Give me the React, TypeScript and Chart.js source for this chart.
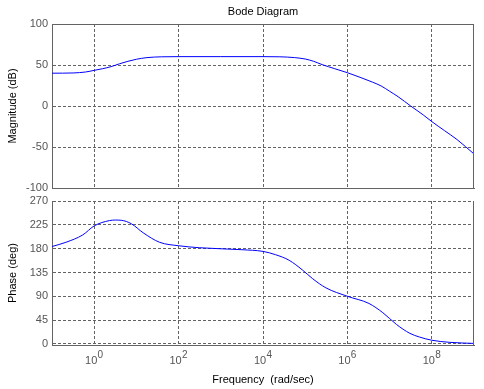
import React, { useEffect, useRef } from 'react';
import { Chart, registerables } from 'chart.js';

Chart.register(...registerables);

// ---- text ----
const TITLE = 'Bode Diagram';
const X_LABEL = 'Frequency  (rad/sec)';
const MAG_LABEL = 'Magnitude (dB)';
const PHASE_LABEL = 'Phase (deg)';

// ---- data (frequency given as decade exponent: rad/sec = 10^exp) ----
const magFreqExp = [-1, -0.5, -0.2, 0, 0.2, 0.4, 0.6, 0.8, 1.0, 1.25, 1.6, 2, 3, 4, 4.4, 4.75, 5.0, 5.2, 5.4, 5.7, 6.0, 6.3, 6.6, 6.8, 7.0, 7.2, 7.5, 7.8, 8.0, 8.3, 8.6, 9.0];
const magDb = [40, 40.3, 41.5, 43.5, 45.5, 48, 51.5, 54.5, 57, 59, 60, 60.2, 60.2, 60.2, 60, 59, 57.3, 54.5, 50.5, 45.5, 40.6, 35, 29, 24.4, 18, 11.4, 0, -11, -19, -30, -41, -58.5];

const phaseFreqExp = [-1, -0.67, -0.27, 0, 0.36, 0.5, 0.64, 0.88, 1.16, 1.55, 2.0, 2.5, 3.5, 4.0, 4.3, 4.62, 4.93, 5.18, 5.49, 6.0, 6.51, 6.84, 7.16, 7.48, 7.71, 8.0, 8.43, 9.0];
const phaseDeg = [184, 192, 206, 223, 233, 234, 233.6, 227, 210, 192, 185.5, 181.7, 178, 174.8, 168.5, 158, 140, 123, 106, 90, 76.5, 59, 37, 20, 13, 7, 3, 1];

const xTickExp = [0, 2, 4, 6, 8];
const magTicks = [-100, -50, 0, 50, 100];
const phaseTicks = [0, 45, 90, 135, 180, 225, 270];

// ---- style ----
const FONT = "'Liberation Sans', Arial, Helvetica, sans-serif";
const AXIS = '#636363';
const GRID = '#636363';
const TICK = '#555555';
const LINE = '#0000ff';

Chart.defaults.font.family = FONT;

function yAxis(ticks: number[], min: number, max: number, label: string) {
  return {
    type: 'linear' as const,
    min,
    max,
    afterBuildTicks: (s: any) => {
      s.ticks = ticks.map((v) => ({ value: v }));
    },
    afterFit: (s: any) => {
      s.width = 52;
      s.paddingTop = 0;
      s.paddingBottom = 0;
    },
    grid: { color: GRID, lineWidth: 1, drawTicks: false },
    border: { display: true, color: AXIS, width: 1, dash: [3, 2] },
    ticks: {
      color: TICK,
      font: { size: 11 },
      padding: 4,
      autoSkip: false,
      callback: (v: any) => String(v),
    },
    title: {
      display: true,
      text: label,
      color: '#000',
      font: { size: 11 },
      padding: { top: 6, bottom: 0 },
    },
  };
}

function xAxis(showLabels: boolean) {
  return {
    type: 'logarithmic' as const,
    min: Math.pow(10, -1),
    max: Math.pow(10, 9),
    afterBuildTicks: (s: any) => {
      s.ticks = xTickExp.map((e) => ({ value: Math.pow(10, e) }));
    },
    afterFit: (s: any) => {
      s.height = showLabels ? 44 : 8;
      s.paddingLeft = 0;
      s.paddingRight = 0;
    },
    grid: { color: GRID, lineWidth: 1, drawTicks: false },
    border: { display: true, color: AXIS, width: 1, dash: [3, 2] },
    ticks: {
      display: showLabels,
      color: TICK,
      font: { size: 11 },
      padding: 9.5,
      labelOffset: -3,
      maxRotation: 0,
      autoSkip: false,
      callback: () => '10',
    },
    title: {
      display: showLabels,
      text: X_LABEL,
      color: '#000',
      font: { size: 11 },
      padding: { top: 0, bottom: 2 },
    },
  };
}

function boxPlugin(drawTop: boolean) {
  return {
    id: 'boxFrame',
    afterDraw(chart: any) {
      const { left, right, top, bottom } = chart.chartArea;
      const ctx = chart.ctx;
      ctx.save();
      ctx.strokeStyle = AXIS;
      ctx.lineWidth = 1;
      ctx.setLineDash([]);
      ctx.beginPath();
      if (drawTop) {
        ctx.moveTo(left, top + 0.5);
        ctx.lineTo(right, top + 0.5);
      }
      ctx.moveTo(right - 0.5, top);
      ctx.lineTo(right - 0.5, bottom + 1);
      ctx.stroke();
      ctx.restore();
    },
  };
}

const exponentPlugin = {
  id: 'exponents',
  afterDraw(chart: any) {
    const s = chart.scales.x;
    const ctx = chart.ctx;
    ctx.save();
    ctx.font = `11px ${FONT}`;
    const w = ctx.measureText('10').width;
    ctx.font = `10px ${FONT}`;
    ctx.fillStyle = TICK;
    ctx.textAlign = 'left';
    ctx.textBaseline = 'alphabetic';
    xTickExp.forEach((e) => {
      const px = s.getPixelForValue(Math.pow(10, e));
      ctx.fillText(String(e), px - 3 + w / 2 + 0.3, s.top + 13);
    });
    ctx.restore();
  },
};

export default function App() {
  const topRef = useRef<HTMLCanvasElement>(null);
  const botRef = useRef<HTMLCanvasElement>(null);

  useEffect(() => {
    document.body.style.margin = '0';
    const magData = magFreqExp.map((e, i) => ({ x: Math.pow(10, e), y: magDb[i] }));
    const phaseData = phaseFreqExp.map((e, i) => ({ x: Math.pow(10, e), y: phaseDeg[i] }));

    const top = new Chart(topRef.current!, {
      type: 'line',
      data: {
        datasets: [
          {
            data: magData,
            borderColor: LINE,
            borderWidth: 1,
            pointRadius: 0,
            fill: false,
            cubicInterpolationMode: 'monotone',
          },
        ],
      },
      options: {
        responsive: false,
        animation: false,
        events: [],
        layout: { padding: { left: 0, right: 10, top: 0, bottom: 0 } },
        plugins: {
          legend: { display: false },
          tooltip: { enabled: false },
          title: {
            display: true,
            text: TITLE,
            color: '#000',
            fullSize: false,
            font: { size: 11, weight: 'normal' },
            padding: { top: 5, bottom: 5.8 },
          },
        },
        scales: {
          x: xAxis(false) as any,
          y: yAxis(magTicks, -100, 100, MAG_LABEL) as any,
        },
      },
      plugins: [boxPlugin(true)],
    });

    const bot = new Chart(botRef.current!, {
      type: 'line',
      data: {
        datasets: [
          {
            data: phaseData,
            borderColor: LINE,
            borderWidth: 1,
            pointRadius: 0,
            fill: false,
            cubicInterpolationMode: 'monotone',
          },
        ],
      },
      options: {
        responsive: false,
        animation: false,
        events: [],
        layout: { padding: { left: 0, right: 10, top: 5, bottom: 0 } },
        plugins: {
          legend: { display: false },
          tooltip: { enabled: false },
          title: { display: false },
        },
        scales: {
          x: xAxis(true) as any,
          y: yAxis(phaseTicks, -2, 270, PHASE_LABEL) as any,
        },
      },
      plugins: [boxPlugin(false), exponentPlugin],
    });

    return () => {
      top.destroy();
      bot.destroy();
    };
  }, []);

  return (
    <div style={{ position: 'absolute', left: 0, top: 0, width: 484, height: 389, background: '#fff' }}>
      <canvas
        ref={topRef}
        width={484}
        height={196}
        style={{ position: 'absolute', left: 0, top: 0, width: 484, height: 196 }}
      />
      <canvas
        ref={botRef}
        width={484}
        height={193}
        style={{ position: 'absolute', left: 0, top: 196, width: 484, height: 193 }}
      />
    </div>
  );
}
